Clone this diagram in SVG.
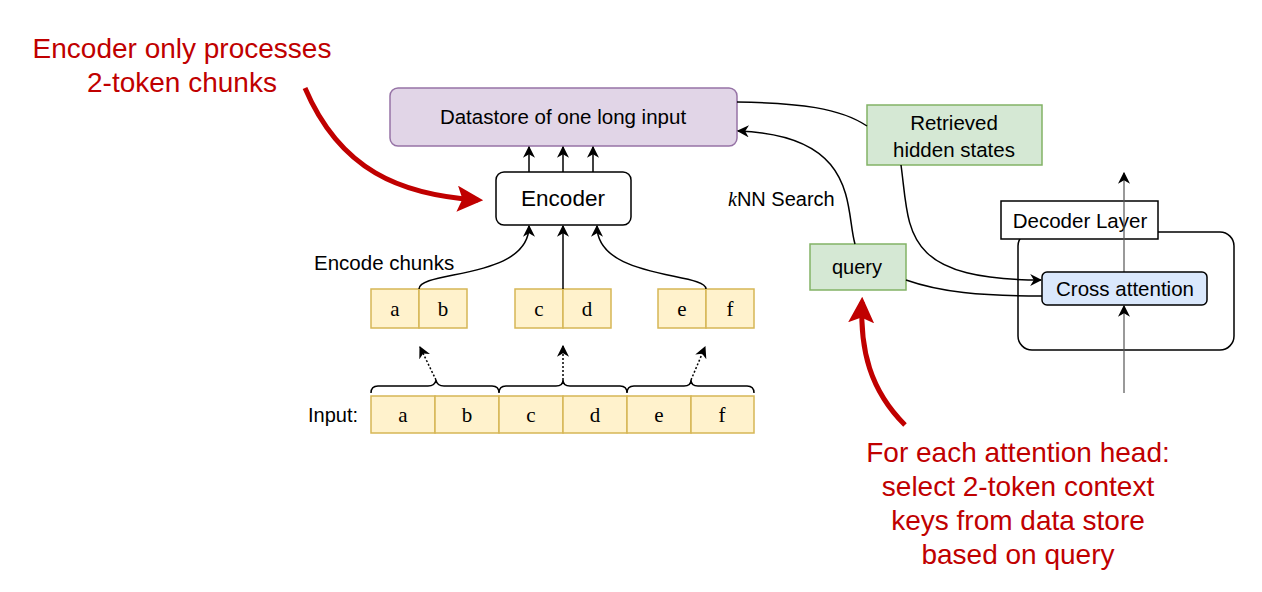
<svg xmlns="http://www.w3.org/2000/svg" width="1262" height="592" viewBox="0 0 1262 592">
<defs>
<style>
.t{font-family:"Liberation Sans",Arial,sans-serif;fill:#000}
.s{font-family:"Liberation Serif","Times New Roman",serif;font-size:21px;fill:#000;text-anchor:middle}
.y{fill:#fff2cc;stroke:#d6b656;stroke-width:1.5}
.g{fill:#d5e8d4;stroke:#82b366;stroke-width:1.5}
.c{fill:none;stroke:#000;stroke-width:1.5}
.r{font-family:"Liberation Sans",Arial,sans-serif;font-size:28px;fill:#c00000;text-anchor:middle}
</style>
<marker id="a" viewBox="0 0 10 10" refX="9" refY="5" markerWidth="12" markerHeight="12" markerUnits="userSpaceOnUse" orient="auto"><path d="M0,0 L10,5 L0,10 L3,5 Z" fill="#000"/></marker>
<marker id="m" viewBox="0 0 10 10" refX="8" refY="5" markerWidth="26" markerHeight="26" markerUnits="userSpaceOnUse" orient="auto"><path d="M0,0 L10,5 L0,10 L2,5 Z" fill="#c00000"/></marker>
</defs>
<rect width="1262" height="592" fill="#fff"/>
<g id="datastore"><rect x="390" y="88" width="347" height="58" rx="8" fill="#e1d5e7" stroke="#9673a6" stroke-width="1.5"/><text class="t" x="563" y="124" font-size="20.5" text-anchor="middle">Datastore of one long input</text></g>
<g id="encoder"><rect x="496" y="172" width="135" height="53" rx="8" fill="#fff" stroke="#000" stroke-width="1.5"/><text class="t" x="563" y="206" font-size="22.5" text-anchor="middle">Encoder</text></g>
<g id="chunk-ab"><rect class="y" x="371" y="289" width="48" height="39"/><rect class="y" x="419" y="289" width="48" height="39"/><text class="s" x="395" y="316">a</text><text class="s" x="443" y="316">b</text></g>
<g id="chunk-cd"><rect class="y" x="515" y="289" width="48" height="39"/><rect class="y" x="563" y="289" width="48" height="39"/><text class="s" x="539" y="316">c</text><text class="s" x="587" y="316">d</text></g>
<g id="chunk-ef"><rect class="y" x="658" y="289" width="48" height="39"/><rect class="y" x="706" y="289" width="48" height="39"/><text class="s" x="682" y="316">e</text><text class="s" x="730" y="316">f</text></g>
<g id="input">
<rect class="y" x="371" y="396" width="64" height="37"/><rect class="y" x="435" y="396" width="64" height="37"/><rect class="y" x="499" y="396" width="64" height="37"/><rect class="y" x="563" y="396" width="64" height="37"/><rect class="y" x="627" y="396" width="64" height="37"/><rect class="y" x="691" y="396" width="63" height="37"/>
<text class="s" x="403" y="422">a</text><text class="s" x="467" y="422">b</text><text class="s" x="531" y="422">c</text><text class="s" x="595" y="422">d</text><text class="s" x="659" y="422">e</text><text class="s" x="722" y="422">f</text>
</g>
<text class="t" x="308" y="422" font-size="20">Input:</text>
<text class="t" x="314" y="270" font-size="20.5">Encode chunks</text>
<g id="retrieved"><rect class="g" x="867" y="105" width="175" height="60"/><text class="t" x="954" y="130" font-size="20.5" text-anchor="middle">Retrieved</text><text class="t" x="954" y="157" font-size="20.5" text-anchor="middle">hidden states</text></g>
<g id="query"><rect class="g" x="810" y="244" width="96" height="46"/><text class="t" x="857" y="274" font-size="20" text-anchor="middle">query</text></g>
<g id="decoder"><rect x="1018" y="232" width="216" height="118" rx="14" fill="none" stroke="#000" stroke-width="1.5"/><rect x="1001" y="201" width="157" height="38" fill="#fff" stroke="#000" stroke-width="1.5"/><text class="t" x="1080" y="228" font-size="20.5" text-anchor="middle">Decoder Layer</text></g>
<g id="connectors">
<path class="c" d="M529,172 V147" marker-end="url(#a)"/><path class="c" d="M563,172 V147" marker-end="url(#a)"/><path class="c" d="M593,172 V147" marker-end="url(#a)"/>
<path class="c" d="M419,289 C419,270 529,280 529,226" marker-end="url(#a)"/>
<path class="c" d="M563,289 V226" marker-end="url(#a)"/>
<path class="c" d="M706,289 C706,272 597,280 597,226" marker-end="url(#a)"/>
<path d="M371,393 Q371,386 378,386 H428 Q435,386 436,380 Q437,386 444,386 H492 Q499,386 499,393 M499,393 Q499,386 506,386 H556 Q563,386 563,380 Q563,386 570,386 H620 Q627,386 627,393 M627,393 Q627,386 634,386 H684 Q691,386 691,380 Q691,386 698,386 H747 Q754,386 754,393" fill="none" stroke="#000" stroke-width="1.5"/>
<path d="M436,380 L420,347" fill="none" stroke="#000" stroke-width="1.5" stroke-dasharray="2,2" marker-end="url(#a)"/>
<path d="M563,380 V346" fill="none" stroke="#000" stroke-width="1.5" stroke-dasharray="2,2" marker-end="url(#a)"/>
<path d="M691,380 L705,347" fill="none" stroke="#000" stroke-width="1.5" stroke-dasharray="2,2" marker-end="url(#a)"/>
<path class="c" d="M737,102 C800,103 840,108 867,126"/>
<path class="c" d="M855,244 C845,210 860,135 738,131" marker-end="url(#a)"/>
<path class="c" d="M901,165 C910,230 900,280 1041,280" marker-end="url(#a)"/>
<path class="c" d="M906,280 C940,292 980,296 1042,296"/>
<path d="M1124,393 V306" fill="none" stroke="#555" stroke-width="1.2" marker-end="url(#a)"/>
<path d="M1124,272 V173" fill="none" stroke="#555" stroke-width="1.2" marker-end="url(#a)"/>
</g>
<g id="cross"><rect x="1042" y="272" width="165" height="33" rx="5" fill="#dae8fc" stroke="#000" stroke-width="1.5"/><text class="t" x="1125" y="296" font-size="20.5" text-anchor="middle">Cross attention</text></g>
<text class="t" x="728" y="206" font-size="20"><tspan font-style="italic" font-family="Liberation Serif,serif">k</tspan>NN Search</text>
<g id="annotations">
<text class="r" x="182" y="58">Encoder only processes</text><text class="r" x="182" y="92">2-token chunks</text>
<path d="M305,88 C340,170 400,195 478,200" fill="none" stroke="#c00000" stroke-width="5" marker-end="url(#m)"/>
<text class="r" x="1018" y="462">For each attention head:</text><text class="r" x="1018" y="496">select 2-token context</text><text class="r" x="1018" y="530">keys from data store</text><text class="r" x="1018" y="564">based on query</text>
<path d="M905,425 C870,390 860,350 862,302" fill="none" stroke="#c00000" stroke-width="5" marker-end="url(#m)"/>
</g>
</svg>
